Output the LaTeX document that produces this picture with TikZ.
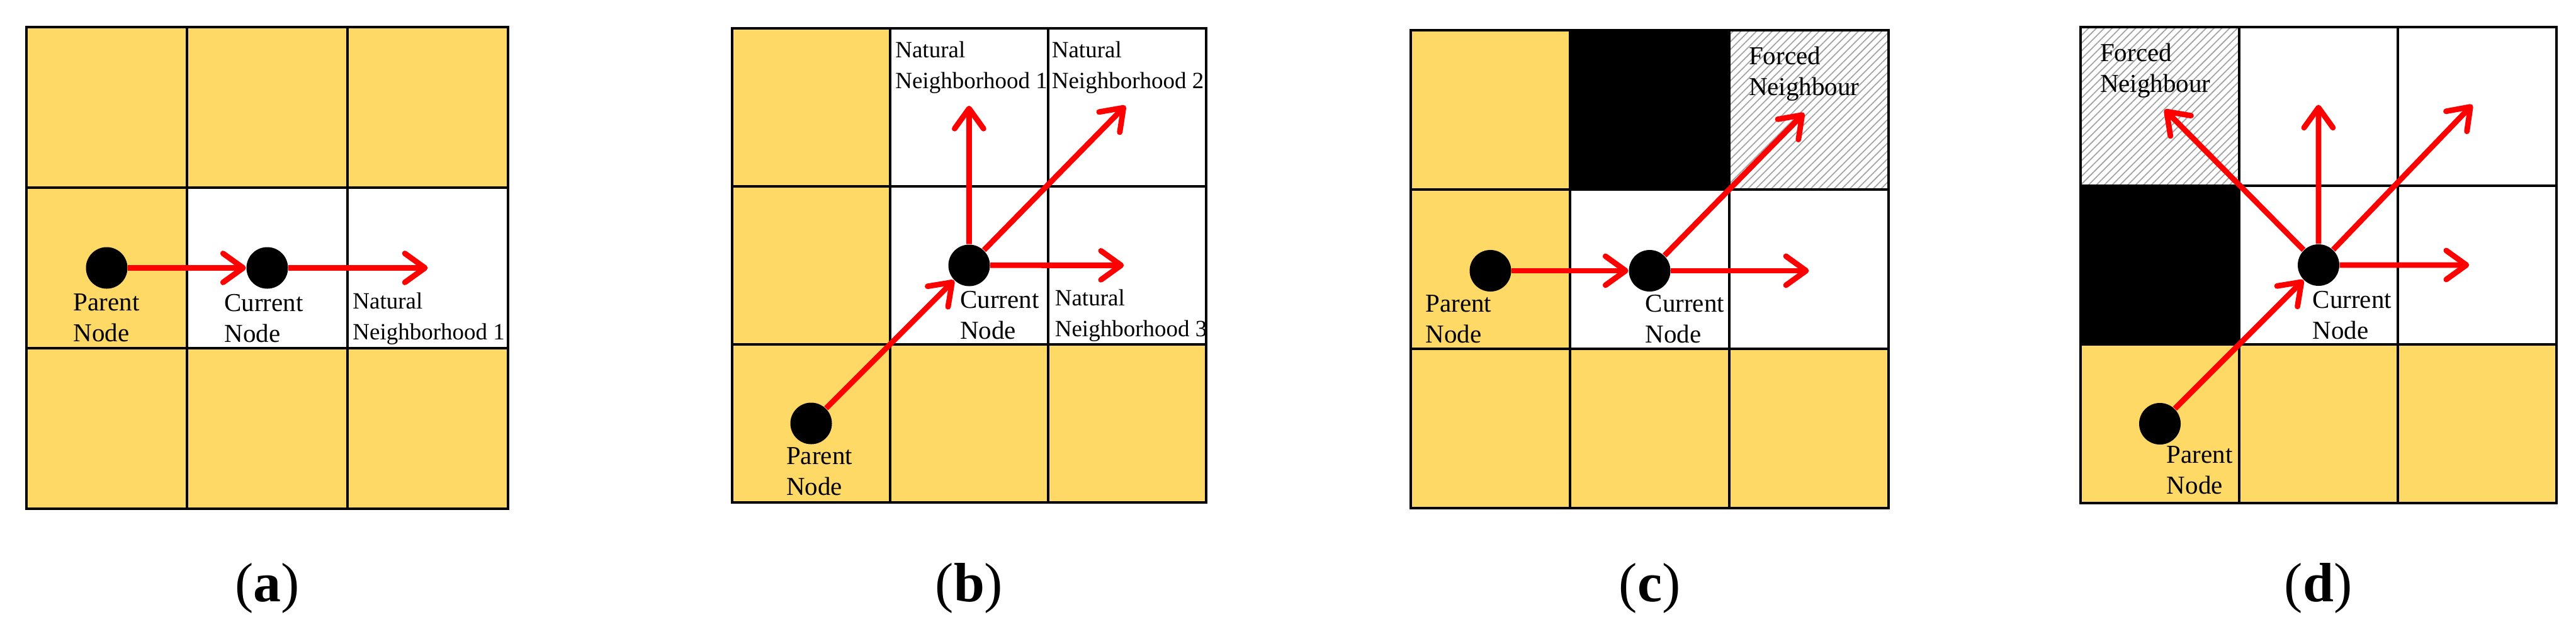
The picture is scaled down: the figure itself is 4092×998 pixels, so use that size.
\documentclass[tikz,border=0pt]{standalone}
\usepackage{fontspec}
\setmainfont{Liberation Serif}
\usetikzlibrary{arrows.meta,patterns.meta}

\definecolor{cellyellow}{RGB}{255,217,102}
\definecolor{jumpred}{RGB}{255,0,0}
\definecolor{hatchgray}{RGB}{165,165,165}

\tikzset{
	gridline/.style={line width=1pt},
	yellowcell/.style={fill=cellyellow},
	wallcell/.style={fill=black},
	forcedcell/.style={pattern={Lines[angle=45,distance=2.2pt,line width=0.45pt]},pattern color=hatchgray},
	stone/.style={circle,fill=black,inner sep=0pt,minimum size=16.5pt},
	jump/.style={draw=jumpred,line width=2.2pt,-{Straight Barb[length=8pt,width=11.5pt,round]}},
	lbl/.style={anchor=north west,inner sep=0pt,align=left,font=\fontsize{10.25pt}{12.25pt}\selectfont},
	nlbl/.style={lbl,font=\fontsize{9.25pt}{12.25pt}\selectfont},
	panelcap/.style={anchor=base,inner sep=0pt,font=\fontsize{22pt}{26pt}\selectfont}}

\begin{document}
\begin{tikzpicture}[x=0.25pt,y=0.25pt,yscale=-1,xscale=1]
	\useasboundingbox (0,0) rectangle (4092,998);

	% Panel (a)
	\begin{scope}[shift={(42,43)},scale=255]
		\foreach \cx/\ry in {0/0,1/0,2/0,0/1,0/2,1/2,2/2}
			\fill[yellowcell] (\cx,\ry) rectangle ++(1,1);
		\foreach \i in {1,2}
			\draw[gridline] (\i,0) -- (\i,3) (0,\i) -- (3,\i);
		\draw[gridline] (0,0) rectangle (3,3);
		\node[stone] (a-par) at (0.5,1.5) {};
		\node[stone] (a-cur) at (1.5,1.5) {};
		\coordinate (a-e) at (2.5,1.5);
		\draw[jump] (a-par) -- (a-cur);
		\draw[jump] (a-cur) -- (a-e);
		% Text Node
		\node[lbl] (a-lpar) at (0.29,1.66) {Parent\\Node};
		\node[lbl] (a-lcur) at (1.23,1.66) {Current\\Node};
		\node[nlbl] (a-lnat) at (2.03,1.65) {Natural\\Neighborhood 1};
	\end{scope}

	% Panel (b)
	\begin{scope}[shift={(1163,45)},scale=251]
		\foreach \cx/\ry in {0/0,0/1,0/2,1/2,2/2}
			\fill[yellowcell] (\cx,\ry) rectangle ++(1,1);
		\foreach \i in {1,2}
			\draw[gridline] (\i,0) -- (\i,3) (0,\i) -- (3,\i);
		\draw[gridline] (0,0) rectangle (3,3);
		\node[stone] (b-par) at (0.5,2.5) {};
		\node[stone] (b-cur) at (1.5,1.5) {};
		\coordinate (b-n) at (1.5,0.49);
		\coordinate (b-ne) at (2.49,0.49);
		\coordinate (b-e) at (2.48,1.5);
		\draw[jump] (b-par) -- (b-cur);
		\draw[jump] (b-cur) -- (b-n);
		\draw[jump] (b-cur) -- (b-ne);
		\draw[jump] (b-cur) -- (b-e);
		% Text Node
		\node[nlbl] (b-lnat1) at (1.03,0.08) {Natural\\Neighborhood 1};
		\node[nlbl] (b-lnat2) at (2.02,0.08) {Natural\\Neighborhood 2};
		\node[lbl] (b-lcur) at (1.44,1.66) {Current\\Node};
		\node[nlbl] (b-lnat3) at (2.04,1.65) {Natural\\Neighborhood 3};
		\node[lbl] (b-lpar) at (0.34,2.65) {Parent\\Node};
	\end{scope}

	% Panel (c)
	\begin{scope}[shift={(2241,48)},scale=253]
		\foreach \cx/\ry in {0/0,0/1,0/2,1/2,2/2}
			\fill[yellowcell] (\cx,\ry) rectangle ++(1,1);
		\fill[wallcell] (1,0) rectangle ++(1,1);
		\fill[forcedcell] (2,0) rectangle ++(1,1);
		\foreach \i in {1,2}
			\draw[gridline] (\i,0) -- (\i,3) (0,\i) -- (3,\i);
		\draw[gridline] (0,0) rectangle (3,3);
		\node[stone] (c-par) at (0.5,1.51) {};
		\node[stone] (c-cur) at (1.5,1.51) {};
		\coordinate (c-ne) at (2.47,0.52);
		\coordinate (c-e) at (2.5,1.51);
		\draw[jump] (c-par) -- (c-cur);
		\draw[jump] (c-cur) -- (c-ne);
		\draw[jump] (c-cur) -- (c-e);
		% Text Node
		\node[lbl] (c-lfor) at (2.12,0.10) {Forced\\Neighbour};
		\node[lbl] (c-lpar) at (0.09,1.66) {Parent\\Node};
		\node[lbl] (c-lcur) at (1.47,1.66) {Current\\Node};
	\end{scope}

	% Panel (d)
	\begin{scope}[shift={(3305,43)},scale=252]
		\foreach \cx/\ry in {0/2,1/2,2/2}
			\fill[yellowcell] (\cx,\ry) rectangle ++(1,1);
		\fill[wallcell] (0,1) rectangle ++(1,1);
		\fill[forcedcell] (0,0) rectangle ++(1,1);
		\foreach \i in {1,2}
			\draw[gridline] (\i,0) -- (\i,3) (0,\i) -- (3,\i);
		\draw[gridline] (0,0) rectangle (3,3);
		\node[stone] (d-par) at (0.5,2.5) {};
		\node[stone] (d-cur) at (1.5,1.5) {};
		\coordinate (d-nw) at (0.53,0.52);
		\coordinate (d-n) at (1.5,0.49);
		\coordinate (d-ne) at (2.47,0.49);
		\coordinate (d-e) at (2.45,1.5);
		\draw[jump] (d-par) -- (d-cur);
		\draw[jump] (d-cur) -- (d-nw);
		\draw[jump] (d-cur) -- (d-n);
		\draw[jump] (d-cur) -- (d-ne);
		\draw[jump] (d-cur) -- (d-e);
		% Text Node
		\node[lbl] (d-lfor) at (0.12,0.10) {Forced\\Neighbour};
		\node[lbl] (d-lcur) at (1.46,1.66) {Current\\Node};
		\node[lbl] (d-lpar) at (0.54,2.64) {Parent\\Node};
	\end{scope}

	% Captions
	\node[panelcap] (cap-a) at (424.5,955) {(\textbf{a})};
	\node[panelcap] (cap-b) at (1539.5,955) {(\textbf{b})};
	\node[panelcap] (cap-c) at (2620.5,955) {(\textbf{c})};
	\node[panelcap] (cap-d) at (3682.5,955) {(\textbf{d})};

\end{tikzpicture}
\end{document}
